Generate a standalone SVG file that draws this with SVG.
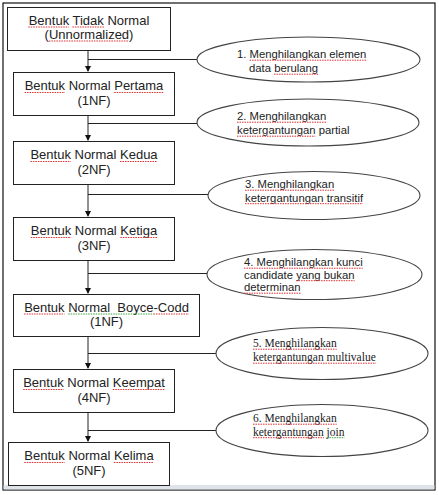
<svg xmlns="http://www.w3.org/2000/svg" width="439" height="495" viewBox="0 0 439 495">
<style>
.box{fill:#fff;stroke:#222;stroke-width:1}
.ell{fill:#fff;stroke:#444;stroke-width:1.1}
.bt{font-family:"Liberation Sans",Arial,sans-serif;font-size:13px;fill:#222;text-anchor:middle}
.et{font-family:"Liberation Sans",Arial,sans-serif;font-size:11.3px;fill:#222}
.es{font-family:"Liberation Serif","Times New Roman",serif;font-size:11.5px;fill:#222}
.r{fill:none;stroke:#e03030;stroke-width:1;stroke-dasharray:1.5 1}
.g{fill:none;stroke:#3aa03a;stroke-width:1;stroke-dasharray:1.5 1}
.ln{fill:none;stroke:#222;stroke-width:1}
</style>
<defs>
<marker id="ah" markerWidth="6" markerHeight="6" refX="5" refY="3" orient="auto" markerUnits="userSpaceOnUse">
<path d="M0,0 L6,3 L0,6 z" fill="#111"/>
</marker>
</defs>
<rect x="0" y="0" width="439" height="495" fill="#fff"/>
<rect x="3" y="3" width="432" height="487" fill="#fff" stroke="#111" stroke-width="1.2"/>
<rect x="3.6" y="485" width="430.8" height="4.4" fill="#dfe4ea"/>

<g id="connectors">
<path class="ln" d="M88,50 V71" marker-end="url(#ah)"/>
<path class="ln" d="M88,115 V140" marker-end="url(#ah)"/>
<path class="ln" d="M88,184 V216" marker-end="url(#ah)"/>
<path class="ln" d="M88,260 V293" marker-end="url(#ah)"/>
<path class="ln" d="M88,336 V368" marker-end="url(#ah)"/>
<path class="ln" d="M88,412 V441" marker-end="url(#ah)"/>
<path class="ln" d="M88,59.5 H197"/>
<path class="ln" d="M88,123.5 H197"/>
<path class="ln" d="M88,194.5 H208"/>
<path class="ln" d="M88,273.5 H207"/>
<path class="ln" d="M88,353.5 H216"/>
<path class="ln" d="M88,430.5 H216"/>
</g>

<g id="box1">
<rect class="box" x="7.5" y="7.5" width="163" height="43"/>
<text class="bt" x="89" y="24.5">Bentuk Tidak Normal</text>
<text class="bt" x="89" y="38.5">(Unnormalized)</text>
<path class="r" d="M28.3,27 H68.8 M72.4,27 H104.2 M48.9,41 H129.1"/>
</g>
<g id="box2">
<rect class="box" x="13.5" y="72.5" width="161" height="43"/>
<text class="bt" x="94" y="90">Bentuk Normal Pertama</text>
<text class="bt" x="94" y="104.5">(1NF)</text>
<path class="r" d="M24.6,92.5 H65.1 M114.2,92.5 H163.4"/>
</g>
<g id="box3">
<rect class="box" x="13.5" y="141.5" width="161" height="43"/>
<text class="bt" x="94" y="159">Bentuk Normal Kedua</text>
<text class="bt" x="94" y="173.5">(2NF)</text>
<path class="r" d="M30.4,161.5 H70.9 M120,161.5 H157.6"/>
</g>
<g id="box4">
<rect class="box" x="13.5" y="217.5" width="161" height="43"/>
<text class="bt" x="94" y="235">Bentuk Normal Ketiga</text>
<text class="bt" x="94" y="249.5">(3NF)</text>
<path class="r" d="M30.8,237.5 H71.2 M120.4,237.5 H157.2"/>
</g>
<g id="box5">
<rect class="box" x="13.5" y="294.5" width="186" height="42"/>
<text class="bt" x="106.5" y="311.5" xml:space="preserve">Bentuk Normal  Boyce-Codd</text>
<text class="bt" x="106.5" y="326">(1NF)</text>
<path class="r" d="M24.1,314 H64.6 M153.5,314 H188.9"/>
<path class="g" d="M68.2,314 H153.5"/>
</g>
<g id="box6">
<rect class="box" x="13.5" y="369.5" width="161" height="43"/>
<text class="bt" x="94" y="387">Bentuk Normal Keempat</text>
<text class="bt" x="94" y="401.5">(4NF)</text>
<path class="r" d="M23.2,389.5 H63.7 M112.8,389.5 H164.8"/>
</g>
<g id="box7">
<rect class="box" x="8.5" y="442.5" width="161" height="43"/>
<text class="bt" x="89" y="460">Bentuk Normal Kelima</text>
<text class="bt" x="89" y="474.5">(5NF)</text>
<path class="r" d="M24.3,462.5 H64.8 M113.9,462.5 H153.7"/>
</g>

<g id="ellipse1">
<ellipse class="ell" cx="308.5" cy="59.5" rx="111.5" ry="22.5"/>
<text class="et" x="237" y="58">1. Menghilangkan elemen</text>
<text class="et" x="249" y="72">data berulang</text>
<path class="r" d="M249.6,60.2 H366.4 M274.1,74.2 H318.1"/>
</g>
<g id="ellipse2">
<ellipse class="ell" cx="308" cy="122.5" rx="111" ry="23.5"/>
<text class="et" x="237" y="120">2. Menghilangkan</text>
<text class="et" x="237" y="134">ketergantungan partial</text>
<path class="r" d="M237,122.2 H326.2 M237,136.2 H315.3"/>
</g>
<g id="ellipse3">
<ellipse class="ell" cx="314" cy="195.5" rx="106" ry="24"/>
<text class="et" x="245" y="188">3. Menghilangkan</text>
<text class="et" x="245" y="201.5">ketergantungan transitif</text>
<path class="r" d="M245,190.2 H334.2 M245,203.7 H362.9"/>
</g>
<g id="ellipse4">
<ellipse class="ell" cx="314.5" cy="274.5" rx="107.5" ry="25"/>
<text class="et" x="244" y="266">4. Menghilangkan kunci</text>
<text class="et" x="244" y="278.5">candidate yang bukan</text>
<text class="et" x="244" y="291">determinan</text>
<path class="r" d="M244,268.2 H362.7 M296.1,280.7 H354.6 M244,293.2 H300.5"/>
</g>
<g id="ellipse5">
<ellipse class="ell" cx="322" cy="353.5" rx="106" ry="26"/>
<text class="es" x="253" y="347">5. Menghilangkan</text>
<text class="es" x="253" y="361">ketergantungan multivalue</text>
<path class="r" d="M253,349.2 H336.7 M253,363.2 H376"/>
</g>
<g id="ellipse6">
<ellipse class="ell" cx="322" cy="430.5" rx="106" ry="26"/>
<text class="es" x="253" y="422">6. Menghilangkan</text>
<text class="es" x="253" y="435.5">ketergantungan join</text>
<path class="r" d="M253,424.2 H336.7 M253,437.7 H323.9"/>
<path class="g" d="M326.8,437.7 H344.7"/>
</g>
</svg>
